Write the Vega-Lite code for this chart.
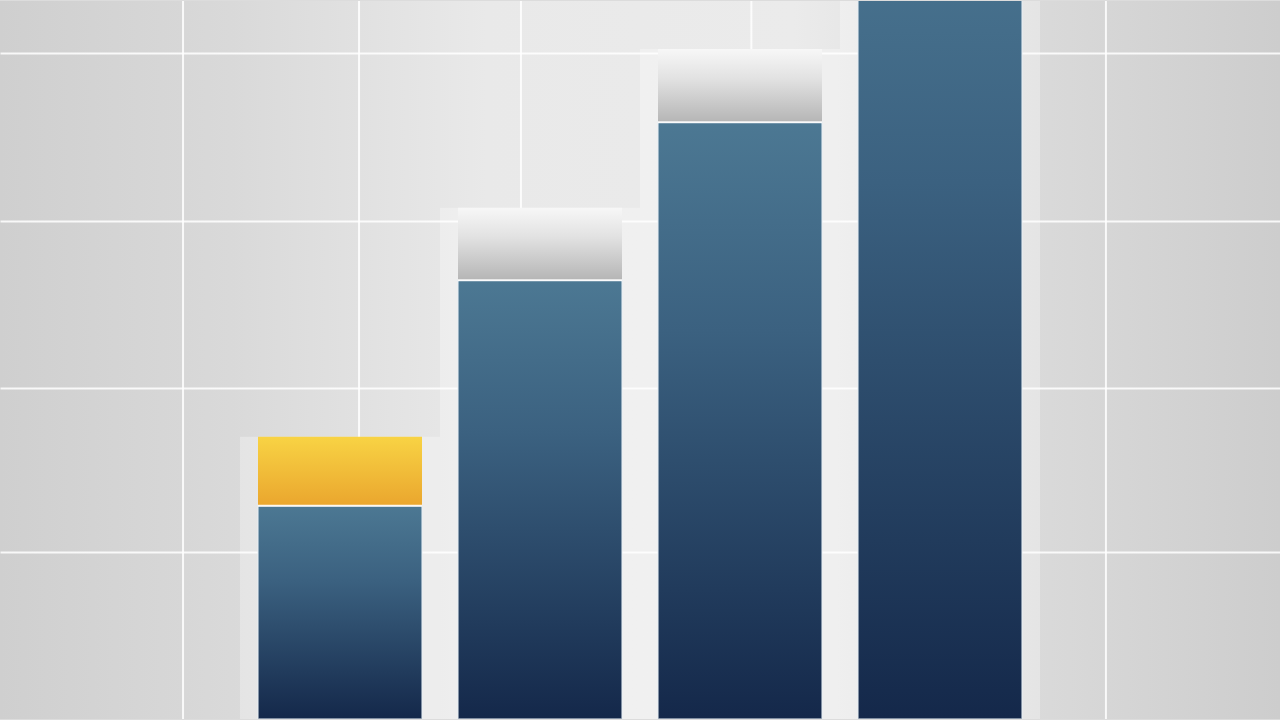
{
  "$schema": "https://vega.github.io/schema/vega-lite/v6.json",
  "width": 1280,
  "height": 720,
  "padding": 0,
  "autosize": {"type": "fit", "contains": "padding"},
  "background": "#dcdcdc",
  "view": {
    "stroke": null,
    "fill": {
      "gradient": "linear", "x1": 0, "y1": 0, "x2": 1, "y2": 0,
      "stops": [
        {"offset": 0, "color": "#cfcfcf"},
        {"offset": 0.18, "color": "#d9d9d9"},
        {"offset": 0.38, "color": "#e9e9e9"},
        {"offset": 0.62, "color": "#ebebeb"},
        {"offset": 0.82, "color": "#d9d9d9"},
        {"offset": 1, "color": "#cdcdcd"}
      ]
    }
  },
  "datasets": {
    "bars": [
      {"cat": "A", "base": 29.7, "total": 39.3, "cap": "gold"},
      {"cat": "B", "base": 61.1, "total": 71.2, "cap": "silver"},
      {"cat": "C", "base": 83.1, "total": 93.3, "cap": "silver"},
      {"cat": "D", "base": 115, "total": 120, "cap": "none"}
    ],
    "vgrid": [
      {"gx": 14.3}, {"gx": 28.05}, {"gx": 40.7}, {"gx": 58.7}, {"gx": 86.4}
    ]
  },
  "resolve": {"scale": {"x": "independent"}, "axis": {"x": "independent"}},
  "layer": [
    {
      "data": {"name": "vgrid"},
      "mark": {"type": "rule", "color": "#ffffff", "strokeWidth": 2, "opacity": 0.85},
      "encoding": {
        "x": {"field": "gx", "type": "quantitative", "scale": {"domain": [0, 100], "nice": false, "zero": false}, "axis": null}
      }
    },
    {
      "data": {"name": "bars"},
      "layer": [
        {
          "mark": {"type": "bar", "color": "#ffffff", "opacity": 0.3, "width": {"band": 1.22}, "clip": true},
          "encoding": {
            "x": {"field": "cat", "type": "nominal", "scale": {"domain": ["L", "A", "B", "C", "D", "R"], "paddingInner": 0.18, "paddingOuter": 0.29}, "axis": null},
            "y": {"field": "total", "type": "quantitative", "scale": {"domain": [0, 100], "nice": false},
              "axis": {"values": [23.2, 46.1, 69.3, 92.8], "grid": true, "gridColor": "#ffffff", "gridWidth": 2, "gridOpacity": 0.85, "labels": false, "ticks": false, "domain": false, "title": null}}
          }
        },
        {
          "mark": {
            "type": "bar", "clip": true, "stroke": "#e6eef2", "strokeWidth": 1.5, "strokeOpacity": 0.7,
            "fill": {
              "gradient": "linear", "x1": 0, "y1": 0, "x2": 0, "y2": 1,
              "stops": [
                {"offset": 0, "color": "#4c7893"},
                {"offset": 0.35, "color": "#3b6180"},
                {"offset": 1, "color": "#14284a"}
              ]
            }
          },
          "encoding": {
            "x": {"field": "cat", "type": "nominal", "scale": {"domain": ["L", "A", "B", "C", "D", "R"], "paddingInner": 0.18, "paddingOuter": 0.29}, "axis": null},
            "y": {"field": "base", "type": "quantitative"}
          }
        },
        {
          "transform": [{"filter": "datum.cap === 'gold'"}],
          "mark": {
            "type": "bar", "clip": true,
            "fill": {
              "gradient": "linear", "x1": 0, "y1": 0, "x2": 0, "y2": 1,
              "stops": [
                {"offset": 0, "color": "#f8d344"},
                {"offset": 1, "color": "#eaa62e"}
              ]
            }
          },
          "encoding": {
            "x": {"field": "cat", "type": "nominal", "scale": {"domain": ["L", "A", "B", "C", "D", "R"], "paddingInner": 0.18, "paddingOuter": 0.29}, "axis": null},
            "y": {"field": "base", "type": "quantitative"},
            "y2": {"field": "total"}
          }
        },
        {
          "transform": [{"filter": "datum.cap === 'silver'"}],
          "mark": {
            "type": "bar", "clip": true,
            "fill": {
              "gradient": "linear", "x1": 0, "y1": 0, "x2": 0, "y2": 1,
              "stops": [
                {"offset": 0, "color": "#f7f7f7"},
                {"offset": 0.4, "color": "#e2e2e2"},
                {"offset": 1, "color": "#b5b5b5"}
              ]
            }
          },
          "encoding": {
            "x": {"field": "cat", "type": "nominal", "scale": {"domain": ["L", "A", "B", "C", "D", "R"], "paddingInner": 0.18, "paddingOuter": 0.29}, "axis": null},
            "y": {"field": "base", "type": "quantitative"},
            "y2": {"field": "total"}
          }
        },
        {
          "transform": [{"filter": "datum.cap !== 'none'"}],
          "mark": {"type": "tick", "color": "#ffffff", "thickness": 2, "size": 164, "opacity": 0.9},
          "encoding": {
            "x": {"field": "cat", "type": "nominal", "scale": {"domain": ["L", "A", "B", "C", "D", "R"], "paddingInner": 0.18, "paddingOuter": 0.29}, "axis": null},
            "y": {"field": "base", "type": "quantitative"}
          }
        }
      ]
    }
  ]
}
